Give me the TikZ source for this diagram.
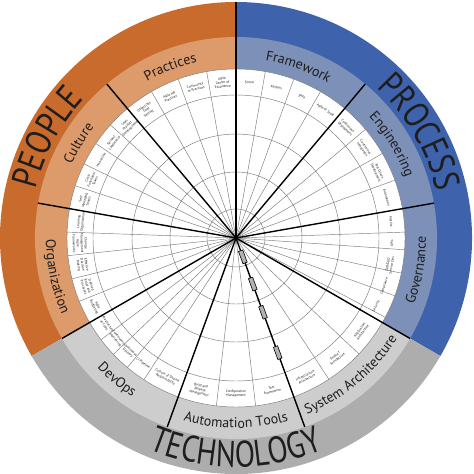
\documentclass[tikz,border=0pt]{standalone}
\usepackage{fontspec}
\setmainfont{PT Sans}
\newfontfamily\narrowA[FakeStretch=0.85]{PT Sans}
\newfontfamily\narrowB[FakeStretch=0.8]{PT Sans}
\usetikzlibrary{decorations.text}
\definecolor{peopleA}{HTML}{C96B2C}
\definecolor{peopleB}{HTML}{DD9A6B}
\definecolor{procA}{HTML}{3E63AC}
\definecolor{procB}{HTML}{7C90B8}
\definecolor{techA}{HTML}{ADADAD}
\definecolor{techB}{HTML}{CDCDCD}
\definecolor{gridc}{HTML}{7A7A7A}
\definecolor{txt}{HTML}{1E1E1E}
\newcommand{\bigfont}{\narrowA\fontsize{36}{36}\selectfont}
\newcommand{\techfont}{\narrowB\fontsize{37}{37}\selectfont}
\newcommand{\midfont}{\fontsize{14}{14}\selectfont}
\tikzset{
  thinspoke/.style={draw=gridc, line width=0.45pt},
  ringline/.style={draw=gridc, line width=0.45pt},
  thickspoke/.style={draw=black, line width=1.4pt},
  celltext/.style={font=\fontsize{3.5}{4}\selectfont, align=center, text=txt, inner sep=0pt},
  bigband/.style={decorate, decoration={text along path, text align=center, text color=txt, text={|\bigfont|#1}}},
  techband/.style={decorate, decoration={text along path, text align=center, text color=txt, text={|\techfont|#1}}},
  midband/.style={decorate, decoration={text along path, text align=center, text color=txt, text={|\midfont|#1}}},
  chainbox/.style={draw=black, fill=gray!60, line width=0.6pt, minimum width=13pt, minimum height=4.5pt, inner sep=0pt, rotate=290},
}
\begin{document}
\begin{tikzpicture}[x=1pt,y=1pt]
\useasboundingbox (-236,-236) rectangle (238,238);
% outer sectors
\fill[peopleA] (0,0) -- (90:236) arc[start angle=90,end angle=210,radius=236] -- cycle;
\fill[procA] (0,0) -- (-30:236) arc[start angle=-30,end angle=90,radius=236] -- cycle;
\fill[techA] (0,0) -- (210:236) arc[start angle=210,end angle=330,radius=236] -- cycle;
\fill[peopleB] (0,0) -- (90:201) arc[start angle=90,end angle=210,radius=201] -- cycle;
\fill[procB] (0,0) -- (-30:201) arc[start angle=-30,end angle=90,radius=201] -- cycle;
\fill[techB] (0,0) -- (210:201) arc[start angle=210,end angle=330,radius=201] -- cycle;
\fill[white] (0,0) circle[radius=169];
% rings
\foreach \r in {29,66,104,143,169} \draw[ringline] (0,0) circle[radius=\r];
% thin spokes
\foreach \a in {100,110,120, 138,146,154,162, 178,186,194,202, 217,223.5,230,237, 263.33,276.67, 303.33,316.67, 332,340,348,356,2, 20,30,40, 60,70,80}
  \draw[thinspoke] (0,0) -- (\a:169);
% thick spokes
\coordinate (o) at (0,0);
\draw[thickspoke] (o) -- (90:236);
\foreach \a in {10,50,130,170,210,250,290,330} \draw[thickspoke] (o) -- (\a:201);
% chain boxes on 290 spoke
\node[chainbox] (b1) at (290:20) {};
\node[chainbox] (b2) at (290:49) {};
\node[chainbox] (b3) at (290:79) {};
\node[chainbox] (b4) at (290:122) {};
% cell labels
\foreach \a/\t [count=\i] in {
  95/{Agile\\Center of\\Excellence}, 105/{Community\\of Practices}, 115/{Agile HR\\Practices}, 125/{Objectives\\Goal\\Setting},
  134/{Lean\\Product\\Development}, 142/{Servant\\Leadership}, 150/{Innovation}, 158/{Cross\\Functional\\Teams}, 166/{Self\\Managing\\Teams},
  174/{Learning\\Organization}, 182/{Change\\Management\\Agile\\Frameworks}, 190/{Effective\\Decision\\Making}, 198/{Defined\\Roles and\\Processes}, 206/{Agile\\Budgeting},
  213.5/{Infrastructure\\as Code}, 220.25/{Continuous\\Monitoring}, 226.75/{Continuous\\Delivery}, 233.5/{CI Pipeline}, 243.5/{Culture of Shared\\Responsibility},
  256.67/{Build and\\Release\\Management}, 270/{Configuration\\Management}, 283.33/{Test\\Automation},
  296.67/{Infrastructure\\Architecture}, 310/{Product\\Architecture}, 323.33/{Application\\Architecture},
  -26/{Security}, -18/{Compliance}, -10/{DoR/DoD\\Service Dev}, -2/{KPIs}, 6/{Metrics},
  15/{Automation}, 25/{Test Driven\\Development}, 35/{Continuous\\Integration}, 45/{Continuous\\Deployment},
  55/{Agile at Scale}, 65/{SAFe}, 75/{Kanban}, 85/{Scrum}}
{
  \pgfmathsetmacro{\rot}{\a+90-180*(\a>0)*(\a<180)}
  \node[celltext, rotate=\rot] (cell\i) at (\a:156) {\t};
}
% band labels
\path[bigband=PEOPLE] (182:206) arc[start angle=182,end angle=122,radius=206];
\path[bigband=PROCESS] (62:206) arc[start angle=62,end angle=-2,radius=206];
\path[techband=TECHNOLOGY] (212:229) arc[start angle=212,end angle=328,radius=229];
\path[midband=Practices] (135:180) arc[start angle=135,end angle=87,radius=180];
\path[midband=Framework] (94:180) arc[start angle=94,end angle=46,radius=180];
\path[midband=Culture] (174:180) arc[start angle=174,end angle=124,radius=180];
\path[midband=Engineering] (58:180) arc[start angle=58,end angle=4,radius=180];
\path[midband=Organization] (164:190) arc[start angle=164,end angle=220,radius=190];
\path[midband=Governance] (-38:190) arc[start angle=-38,end angle=18,radius=190];
\path[midband=DevOps] (205:190) arc[start angle=205,end angle=255,radius=190];
\path[midband=Automation Tools] (240:190) arc[start angle=240,end angle=300,radius=190];
\path[midband=System Architecture] (278:190) arc[start angle=278,end angle=342,radius=190];
\end{tikzpicture}
\end{document}
